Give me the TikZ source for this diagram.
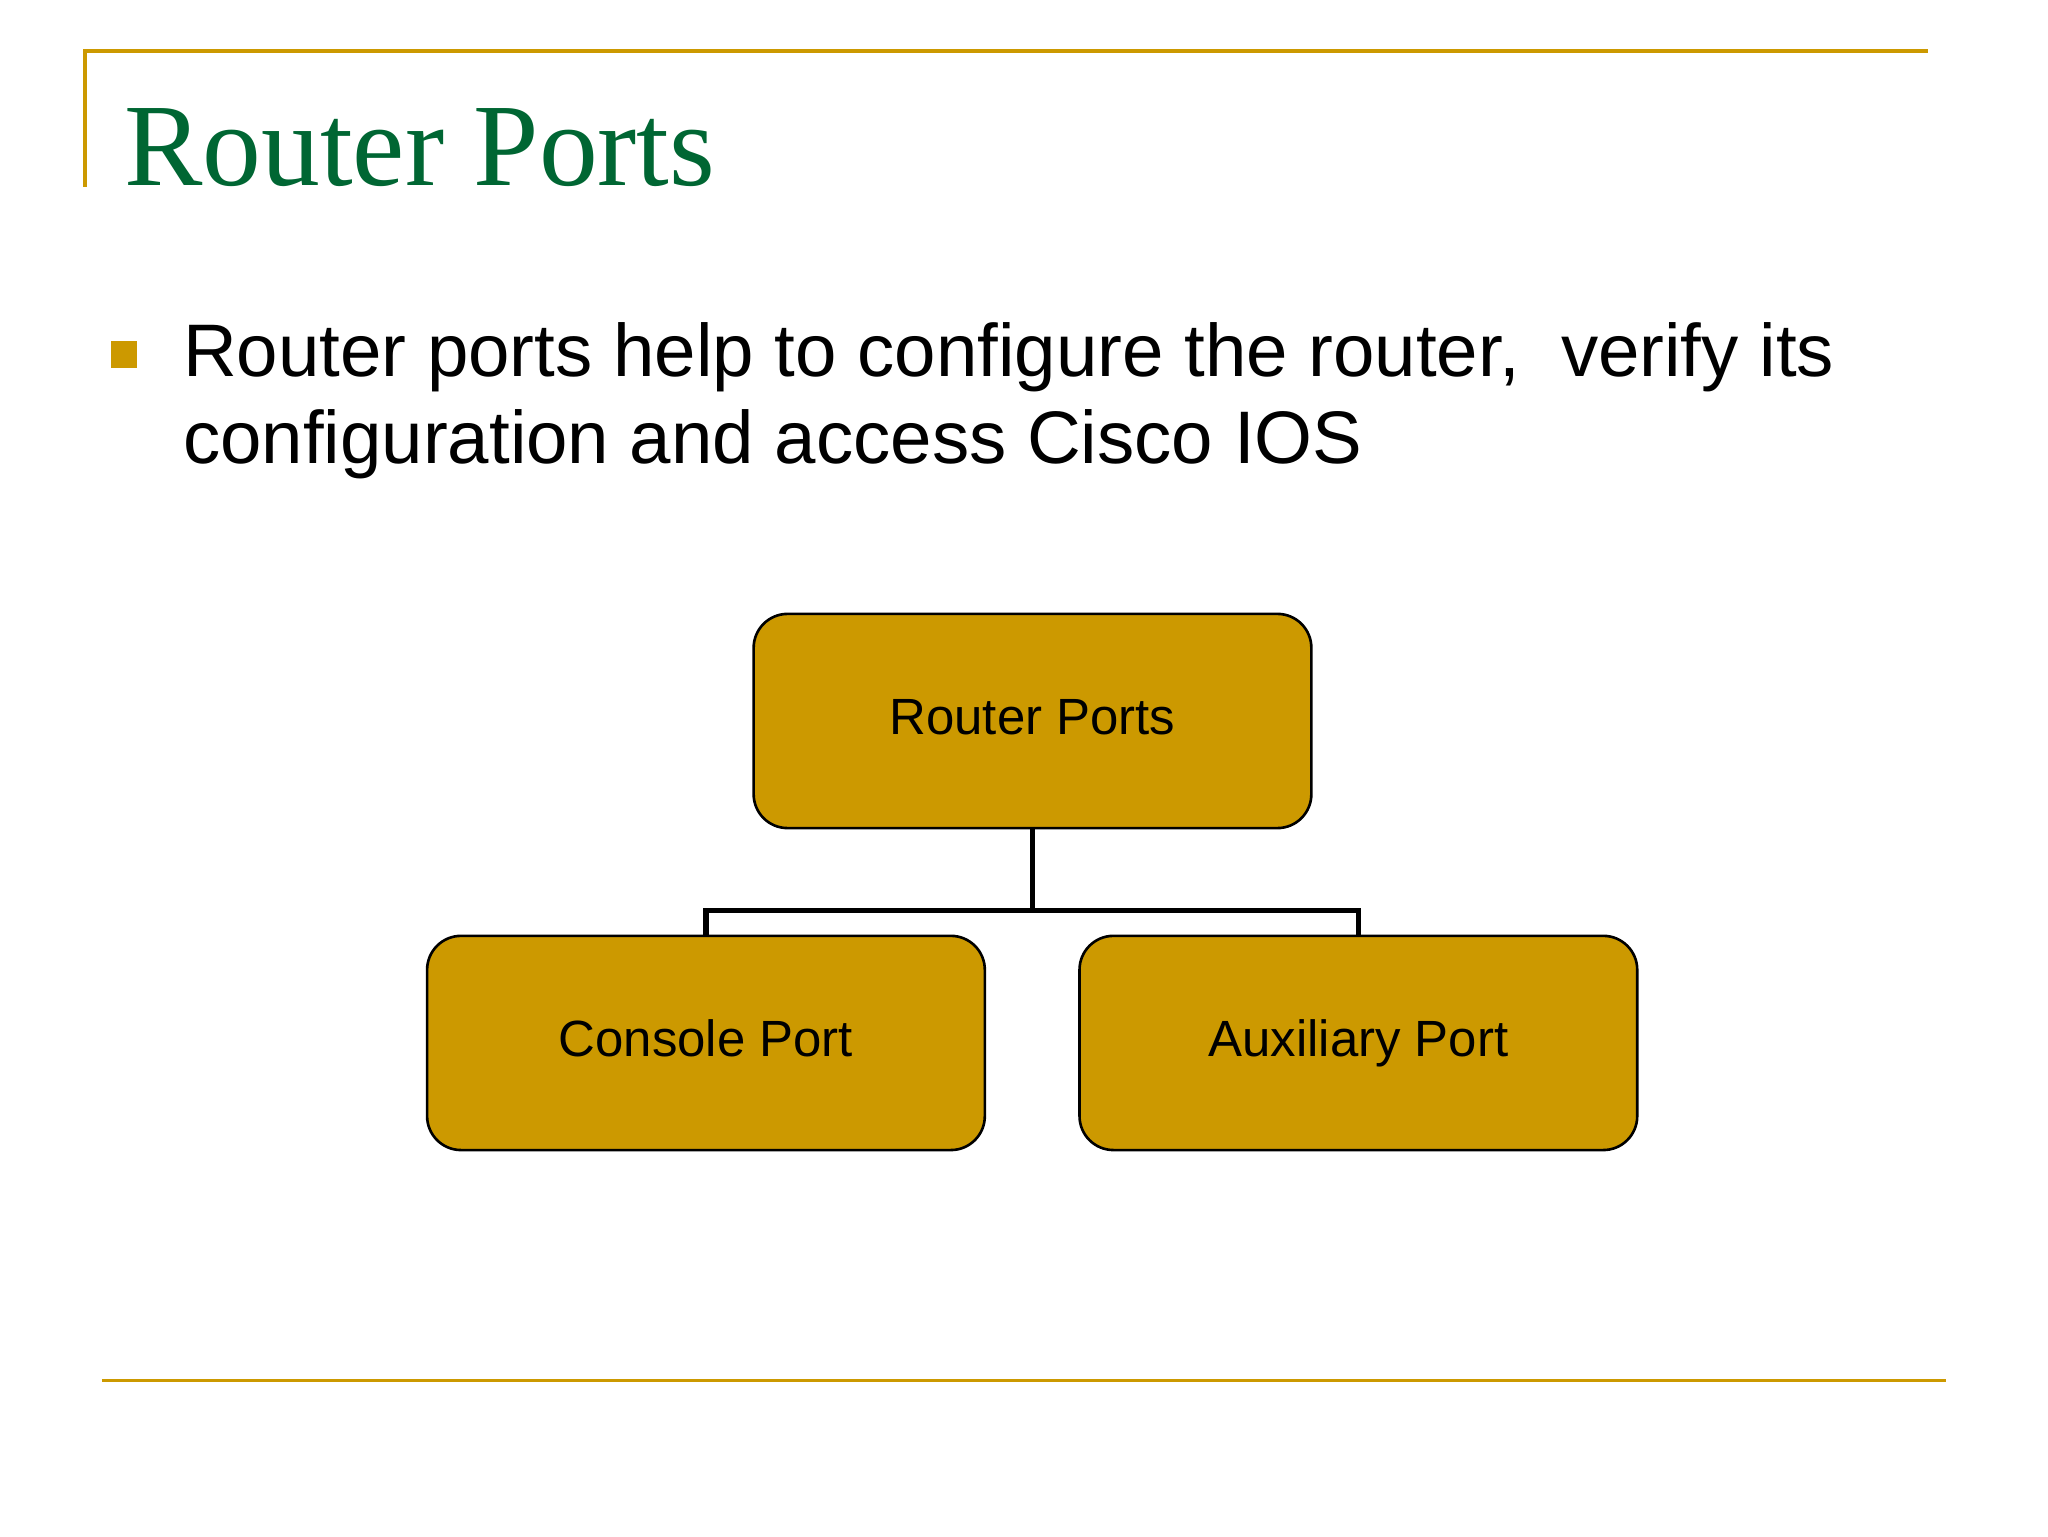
\documentclass[tikz,border=0pt]{standalone}
\usepackage{fontspec}
\setmainfont{Liberation Sans}
\newfontfamily\titlefont{Liberation Serif}
\definecolor{gold}{RGB}{204,153,0}
\definecolor{tgreen}{RGB}{0,102,51}
\begin{document}
\begin{tikzpicture}[x=1pt,y=-1pt,
  pbox/.style={draw=black,line width=2pt,fill=gold,rounded corners=26pt,minimum width=427pt,minimum height=164pt,text height=28pt,text depth=8pt,font=\fontsize{39}{42}\selectfont},
  conn/.style={draw=black,line width=4pt},
  btxt/.style={anchor=base west,inner sep=0pt,font=\fontsize{57}{67}\selectfont}]
\useasboundingbox (0,0) rectangle (1568,1176);
\fill[white] (0,0) rectangle (1568,1176);
\draw[gold,line width=2.5pt] (65,143) -- (65,39) -- (1476,39);
\draw[gold,line width=2.5pt] (78,1057) -- (1490,1057);
\node[anchor=base west,text=tgreen,inner sep=0pt,font=\titlefont\fontsize{90}{96}\selectfont] (title) at (95,142) {Router Ports};
\fill[gold] (85,261) rectangle (105,282);
\node[btxt] (txt1) at (140,288) {Router ports help to configure the router,\ \ verify its};
\node[btxt] (txt2) at (140,355) {configuration and access Cisco IOS};
\node[pbox] (root) at (790.5,552) {Router Ports};
\node[pbox] (con) at (540.5,798.5) {Console Port};
\node[pbox] (aux) at (1040,798.5) {Auxiliary Port};
\draw[conn] (root.south) -- ++(0,62) coordinate (j);
\draw[conn] (con.north) |- (j) -| (aux.north);
\end{tikzpicture}
\end{document}
